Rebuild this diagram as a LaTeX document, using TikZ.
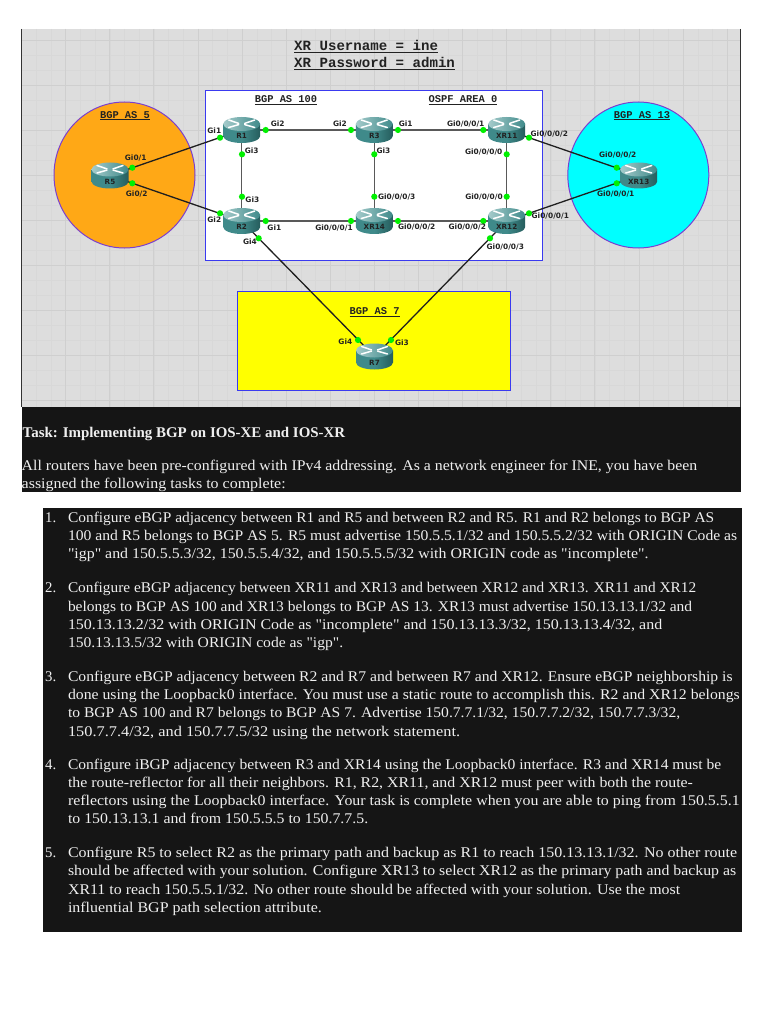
\documentclass[tikz,border=0pt]{standalone}
\usepackage{fontspec}
\usepackage{graphicx}
\setmainfont{Liberation Serif}
\newfontfamily\bodyf{Liberation Serif}
\newfontfamily\lblf{DejaVu Sans}
\newfontfamily\ttlf[WordSpace=2]{Liberation Mono}
\newfontfamily\headf{Liberation Mono}
\definecolor{gridbg}{HTML}{DDDDDD}
\definecolor{gridmin}{HTML}{D8D8D8}
\definecolor{gridmaj}{HTML}{CFCFCF}
\definecolor{panel}{HTML}{151515}
\definecolor{bluebd}{HTML}{3A3AF0}
\definecolor{purplebd}{HTML}{7A3FD0}
\definecolor{orangefill}{HTML}{FFA816}
\definecolor{cyanfill}{HTML}{00FFFF}
\definecolor{yellowfill}{HTML}{FFFF00}
\definecolor{tealA}{HTML}{A5CBCB}
\definecolor{tealB}{HTML}{3F8A8A}
\definecolor{tealC}{HTML}{2F7474}
\definecolor{dotgreen}{HTML}{00F000}
\definecolor{ink}{HTML}{222222}
\definecolor{paper}{HTML}{EFEFEF}
\pgfdeclarelayer{canvas}
\pgfdeclarelayer{links}
\pgfsetlayers{canvas,links,main}
\newcommand{\rtr}[4]{%
  \begin{scope}[shift={(#2,#3)}]
    \shade[left color=tealB,right color=tealC!80!black,middle color=tealB]
      (-18.5,-6) -- (-18.5,6) arc[start angle=180,end angle=0,x radius=18.5,y radius=7] -- (18.5,-6) -- cycle;
    \shade[left color=tealA,right color=tealB] (0,-6) ellipse[x radius=18.5,y radius=7];
    \foreach \s in {-1,1}{
      \draw[white,line width=1.5pt,line cap=round] (\s*13,-10) -- (\s*3,-6.6);
      \draw[white,line width=1.5pt,line cap=round] (\s*13,-2.5) -- (\s*3,-5.4);
    }
  \end{scope}
  \node[rtrnode] (#1) at (#2,#3) {};
  \node[rtrlabel] (#1-l) at (#2,#3+6) {#4};
}
\newcommand{\ifc}[6]{% name, dot x, dot y, label x, label y, text
  \node[ifdot] (#1) at (#2,#3) {};
  \node[iflabel] (#1-l) at (#4,#5) {#6};
}
% name, x, baseline y, right end x, text: the line is fitted to its measured width
\newcommand{\tln}[5]{\node[bodyline] (#1) at (#2,#3) {\resizebox{\dimexpr#4pt-#2pt\relax}{\height}{#5}};}
\tikzset{
  rtrnode/.style={minimum width=37pt,minimum height=26pt,inner sep=0pt},
  rtrlabel/.style={font=\lblf\bfseries\fontsize{7.2}{8}\selectfont,text=ink,inner sep=0pt},
  ifdot/.style={circle,fill=dotgreen,minimum size=6.2pt,inner sep=0pt},
  iflabel/.style={font=\lblf\bfseries\fontsize{7.4}{8}\selectfont,text=ink,inner sep=0pt},
  regionttl/.style={font=\ttlf\bfseries\fontsize{10.4}{11}\selectfont,text=ink,inner sep=0pt},
  headttl/.style={font=\headf\bfseries\fontsize{14.1}{15}\selectfont,text=ink,inner sep=0pt,anchor=base west},
  link/.style={line width=1.5pt,draw=black!65},
  wan/.style={line width=1.3pt,draw=black!88},
  bodyline/.style={font=\bodyf\fontsize{14.8}{16}\selectfont,text=paper,inner sep=0pt,anchor=base west},
  boldline/.style={font=\bodyf\bfseries\fontsize{14.8}{16}\selectfont,text=paper,inner sep=0pt,anchor=base west},
  region/.style={line width=1pt}
}
\begin{document}
\begin{tikzpicture}[x=1pt,y=-1pt]
\useasboundingbox (0,0) rectangle (768,1024);
\begin{pgfonlayer}{canvas}
\fill[white] (0,0) rectangle (768,1024);
\fill[gridbg] (22,29) rectangle (741,407);
\begin{scope}
  \clip (22,29) rectangle (741,407);
  \foreach \k in {-3,...,49}{
    \draw[gridmin,line width=0.6pt] ({65.7+14.7*\k},29) -- ({65.7+14.7*\k},407);
  }
  \foreach \k in {-4,...,25}{
    \draw[gridmin,line width=0.6pt] (22,{85+15*\k}) -- (741,{85+15*\k});
  }
  \foreach \k in {-1,...,16}{
    \draw[gridmaj,line width=0.9pt] ({65.7+44.1*\k},29) -- ({65.7+44.1*\k},407);
  }
  \foreach \k in {-1,...,7}{
    \draw[gridmaj,line width=0.9pt] (22,{85+45*\k}) -- (741,{85+45*\k});
  }
\end{scope}
\draw[black!80,line width=1.5pt] (21.7,29) -- (21.7,407);
\draw[black!80,line width=1.5pt] (740.7,29) -- (740.7,407);
% regions
\node[draw=bluebd,fill=white,region,minimum width=337pt,minimum height=170pt,inner sep=0pt] (core) at (374.2,175.3) {};
\node[draw=bluebd,fill=yellowfill,region,minimum width=273.4pt,minimum height=99.4pt,inner sep=0pt] (as7) at (374,341) {};
\fill[orangefill,draw=purplebd,line width=1pt] (124.5,175) ellipse[x radius=70.5,y radius=73];
\fill[cyanfill,draw=purplebd,line width=1pt] (638.3,175) ellipse[x radius=70.5,y radius=73];
\end{pgfonlayer}
% titles
\node[headttl] (user) at (294,50.5) {\underline{XR Username = ine}};
\node[headttl] (pass) at (294,67.5) {\underline{XR Password = admin}};
\node[regionttl] (t5) at (125,115.7) {\underline{BGP AS 5}};
\node[regionttl] (t100) at (286,100.3) {\underline{BGP AS 100}};
\node[regionttl] (tospf) at (463,100.3) {\underline{OSPF AREA 0}};
\node[regionttl] (t13) at (642,115.7) {\underline{BGP AS 13}};
\node[regionttl] (t7) at (374.7,312) {\underline{BGP AS 7}};
% routers
\rtr{R1}{241.7}{130}{R1}
\rtr{R2}{241.7}{221}{R2}
\rtr{R3}{374.3}{130}{R3}
\rtr{XR14}{374.3}{221}{XR14}
\rtr{XR11}{506.7}{130}{XR11}
\rtr{XR12}{506.7}{221}{XR12}
\rtr{R5}{110}{175.5}{R5}
\rtr{XR13}{638.7}{175.5}{XR13}
\rtr{R7}{374.5}{356.5}{R7}
% connectors, under the routers and above the regions
\begin{pgfonlayer}{links}
\draw[link] (R1.center) -- (R2.center);
\draw[link] (R1.center) -- (R3.center);
\draw[link] (R3.center) -- (XR11.center);
\draw[link] (R3.center) -- (XR14.center);
\draw[link] (XR11.center) -- (XR12.center);
\draw[link] (R2.center) -- (XR14.center);
\draw[link] (XR14.center) -- (XR12.center);
\draw[wan] (R5.center) -- (R1.center);
\draw[wan] (R5.center) -- (R2.center);
\draw[wan] (XR13.center) -- (XR11.center);
\draw[wan] (XR13.center) -- (XR12.center);
\draw[wan] (R2.center) -- (R7.center);
\draw[wan] (XR12.center) -- (R7.center);
\end{pgfonlayer}
% interfaces
\ifc{a1}{220}{137.7}{214.3}{130.3}{Gi1}
\ifc{a2}{265.7}{130}{277.7}{124}{Gi2}
\ifc{a3}{242}{154.3}{251.7}{151}{Gi3}
\ifc{b3}{242}{196.7}{252.3}{200}{Gi3}
\ifc{b2}{220}{213.3}{214.3}{219.3}{Gi2}
\ifc{b1}{265.7}{221}{274.3}{227.7}{Gi1}
\ifc{b4}{258.7}{238.3}{250}{242}{Gi4}
\ifc{c2}{351}{130}{340}{124}{Gi2}
\ifc{c3}{374.3}{154.3}{383.5}{150.3}{Gi3}
\ifc{c1}{398}{130}{405.7}{123.3}{Gi1}
\ifc{d1}{351}{221}{334}{228}{Gi0/0/0/1}
\ifc{d3}{374.3}{196.7}{396.7}{197}{Gi0/0/0/3}
\ifc{d2}{398}{221}{416.7}{226.7}{Gi0/0/0/2}
\ifc{e1}{483.3}{130}{465.7}{124}{Gi0/0/0/1}
\ifc{e2}{529}{137.7}{549.3}{133.7}{Gi0/0/0/2}
\ifc{e0}{506.7}{154.3}{483.7}{152}{Gi0/0/0/0}
\ifc{f0}{506.7}{196.7}{484}{196.7}{Gi0/0/0/0}
\ifc{f2}{483.3}{221}{467.3}{226.7}{Gi0/0/0/2}
\ifc{f1}{529}{213.3}{550.3}{216.3}{Gi0/0/0/1}
\ifc{f3}{490}{238.3}{505.3}{247}{Gi0/0/0/3}
\ifc{g2}{616.7}{167.7}{617.7}{155}{Gi0/0/0/2}
\ifc{g1}{616.7}{183.3}{615.7}{194.3}{Gi0/0/0/1}
\ifc{h1}{132.3}{167.7}{135.7}{157.7}{Gi0/1}
\ifc{h2}{132.3}{183.3}{136.7}{193.7}{Gi0/2}
\ifc{k4}{358}{340}{345.3}{342}{Gi4}
\ifc{k3}{391}{340}{402}{342.7}{Gi3}
% dark panels
\node[fill=panel,minimum width=719pt,minimum height=85pt,inner sep=0pt] (panelA) at (381.5,449.5) {};
\node[fill=panel,minimum width=698.7pt,minimum height=424.3pt,inner sep=0pt] (panelB) at (392.65,719.85) {};
\node[boldline] (h) at (22.5,437) {\resizebox{322.5pt}{\height}{Task: Implementing BGP on IOS-XE and IOS-XR}};
\tln{ha}{21.5}{470}{697}{All routers have been pre-configured with IPv4 addressing. As a network engineer for INE, you have been}
\tln{hb}{21.5}{488.5}{285.5}{assigned the following tasks to complete:}
\node[bodyline] (n1) at (45,522.5) {1.};
\tln{l1a}{67.8}{522.5}{714}{Configure eBGP adjacency between R1 and R5 and between R2 and R5. R1 and R2 belongs to BGP AS}
\tln{l1b}{67.8}{540.5}{737}{100 and R5 belongs to BGP AS 5. R5 must advertise 150.5.5.1/32 and 150.5.5.2/32 with ORIGIN Code as}
\tln{l1c}{67.8}{558.5}{648.4}{"igp" and 150.5.5.3/32, 150.5.5.4/32, and 150.5.5.5/32 with ORIGIN code as "incomplete".}
\node[bodyline] (n2) at (45,592.5) {2.};
\tln{l2a}{67.8}{592.5}{696}{Configure eBGP adjacency between XR11 and XR13 and between XR12 and XR13. XR11 and XR12}
\tln{l2b}{67.8}{611}{692}{belongs to BGP AS 100 and XR13 belongs to BGP AS 13. XR13 must advertise 150.13.13.1/32 and}
\tln{l2c}{67.8}{629}{662}{150.13.13.2/32 with ORIGIN Code as "incomplete" and 150.13.13.3/32, 150.13.13.4/32, and}
\tln{l2d}{67.8}{647}{343}{150.13.13.5/32 with ORIGIN code as "igp".}
\node[bodyline] (n3) at (45,681.5) {3.};
\tln{l3a}{67.8}{681.5}{732.4}{Configure eBGP adjacency between R2 and R7 and between R7 and XR12. Ensure eBGP neighborship is}
\tln{l3b}{67.8}{699.5}{739.5}{done using the Loopback0 interface. You must use a static route to accomplish this. R2 and XR12 belongs}
\tln{l3c}{67.8}{717.5}{680}{to BGP AS 100 and R7 belongs to BGP AS 7. Advertise 150.7.7.1/32, 150.7.7.2/32, 150.7.7.3/32,}
\tln{l3d}{67.8}{736}{460}{150.7.7.4/32, and 150.7.7.5/32 using the network statement.}
\node[bodyline] (n4) at (45,769.5) {4.};
\tln{l4a}{67.8}{769.5}{721}{Configure iBGP adjacency between R3 and XR14 using the Loopback0 interface. R3 and XR14 must be}
\tln{l4b}{67.8}{787.5}{692.7}{the route-reflector for all their neighbors. R1, R2, XR11, and XR12 must peer with both the route-}
\tln{l4c}{67.8}{805.5}{739.5}{reflectors using the Loopback0 interface. Your task is complete when you are able to ping from 150.5.5.1}
\tln{l4d}{67.8}{823.5}{368}{to 150.13.13.1 and from 150.5.5.5 to 150.7.7.5.}
\node[bodyline] (n5) at (45,857.5) {5.};
\tln{l5a}{67.8}{857.5}{737}{Configure R5 to select R2 as the primary path and backup as R1 to reach 150.13.13.1/32. No other route}
\tln{l5b}{67.8}{875.5}{736}{should be affected with your solution. Configure XR13 to select XR12 as the primary path and backup as}
\tln{l5c}{67.8}{894}{680}{XR11 to reach 150.5.5.1/32. No other route should be affected with your solution. Use the most}
\tln{l5d}{67.8}{912}{321.7}{influential BGP path selection attribute.}
\end{tikzpicture}
\end{document}
